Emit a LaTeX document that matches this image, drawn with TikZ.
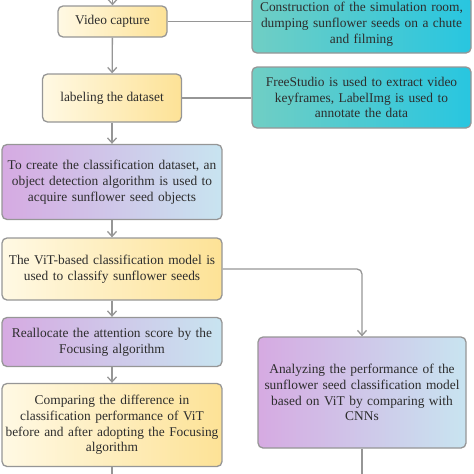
\documentclass[tikz,border=0pt]{standalone}
\usepackage{fontspec}
\setmainfont{Liberation Serif}
\usetikzlibrary{arrows.meta}

\definecolor{edgegray}{RGB}{150,150,150}
\definecolor{textgray}{RGB}{45,45,45}
\definecolor{creamleft}{RGB}{255,249,228}
\definecolor{goldright}{RGB}{253,226,150}
\definecolor{lavleft}{RGB}{214,170,226}
\definecolor{blueright}{RGB}{200,228,240}
\definecolor{tealleft}{RGB}{112,206,196}
\definecolor{tealright}{RGB}{40,198,224}

\tikzset{
	stepbox/.style={draw=edgegray, line width=1.3pt, rounded corners=5pt, align=center, text=textgray, font=\fontsize{13.4}{15.8}\selectfont, inner sep=2pt},
	yellowbox/.style={stepbox, left color=creamleft, right color=goldright},
	purplebox/.style={stepbox, left color=lavleft, right color=blueright},
	tealbox/.style={stepbox, left color=tealleft, right color=tealright},
	flow/.style={draw=edgegray, line width=1.3pt, -{Straight Barb[length=5pt,width=9pt]}},
	link/.style={draw=edgegray, line width=1.3pt}
}

\begin{document}
\begin{tikzpicture}[x=1pt, y=-1pt]
			%%%%% START %%%%%
			\useasboundingbox (0,0) rectangle (474,474);
			
			% main column
			\node[yellowbox, minimum width=109pt, minimum height=31pt] (capture) at (112.5, 21.5) {Video capture};
			\node[yellowbox, minimum width=139pt, minimum height=48pt] (labeling) at (112, 98) {labeling the dataset};
			\node[purplebox, minimum width=220pt, minimum height=75pt, text width=216pt] (detect) at (112, 182) {To create the classification dataset, an\\ object detection algorithm is used to\\ acquire sunflower seed objects};
			\node[yellowbox, minimum width=220pt, minimum height=62pt, text width=216pt] (vit) at (112, 269) {The ViT-based classification model is\\ used to classify sunflower seeds};
			\node[purplebox, minimum width=220pt, minimum height=49pt, text width=216pt] (focus) at (112, 342) {Reallocate the attention score by the\\ Focusing algorithm};
			\node[yellowbox, minimum width=220pt, minimum height=83pt, text width=216pt] (compare) at (112, 425) {Comparing the difference in\\ classification performance of ViT\\ before and after adopting the Focusing\\ algorithm};
			
			% side notes
			\node[tealbox, minimum width=219pt, minimum height=57pt, text width=215pt] (room) at (361.5, 24.5) {Construction of the simulation room,\\ dumping sunflower seeds on a chute\\ and filming};
			\node[tealbox, minimum width=219pt, minimum height=61pt, text width=215pt] (keyframes) at (361.5, 97.5) {FreeStudio is used to extract video\\ keyframes, LabelImg is used to\\ annotate the data};
			\node[purplebox, minimum width=208pt, minimum height=111pt, text width=204pt] (cnn) at (362, 392.5) {Analyzing the performance of the\\ sunflower seed classification model\\ based on ViT by comparing with\\ CNNs};
			
			\coordinate (topin) at (112.5, -5);
			\coordinate (leftout) at (112, 480);
			\coordinate (rightout) at (362, 480);
			
			% connectors
			\draw[flow] (topin) -- (capture);
			\draw[flow] (capture) -- (labeling);
			\draw[flow] (labeling) -- (detect);
			\draw[flow] (detect) -- (vit);
			\draw[flow] (vit) -- (focus);
			\draw[flow] (focus) -- (compare);
			\draw[link] (compare) -- (leftout);
			
			\draw[link] (capture.east) -- (capture.east -| room.west);
			\draw[link] (labeling.east) -- (labeling.east -| keyframes.west);
			\draw[flow, rounded corners=5pt] (vit.east) -| (cnn.north);
			\draw[link] (cnn) -- (rightout);
			
			%%%%% END %%%%%
\end{tikzpicture}
\end{document}
